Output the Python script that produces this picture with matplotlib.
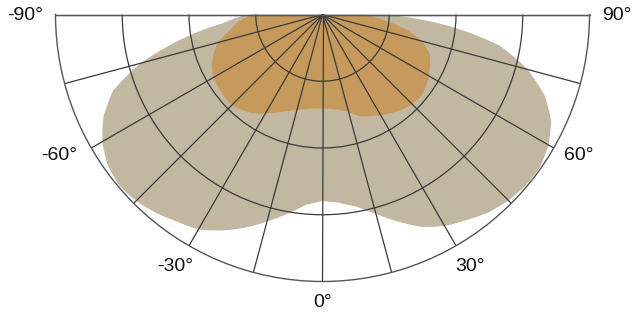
import numpy as np
import matplotlib
matplotlib.use("Agg")
import matplotlib.pyplot as plt

plt.rcParams['font.family'] = ['Liberation Sans', 'DejaVu Sans']

# angles (degrees, 0 = straight down, positive to the right)
angles = [-90, -85, -80, -75, -70, -65, -60, -55, -50, -45, -40, -35, -30, -25, -20, -15, -10, -5,
          0, 5, 10, 15, 20, 25, 30, 35, 40, 45, 50, 55, 60, 65, 70, 75, 80, 85, 90]

outer_curve = [112, 150, 215, 282, 334, 362, 381, 393, 398, 395, 388, 379, 372, 357, 340, 321, 303, 286,
               279, 283, 292, 309, 330, 351, 366, 376, 387, 394, 398, 398, 391, 378, 354, 318, 270, 187, 93]

inner_curve = [105, 127, 142, 162, 174, 183, 189, 190, 192, 192, 187, 181, 171, 162, 154, 148, 144, 141,
               141, 142, 145, 151, 162, 168, 174, 180, 186, 190, 192, 189, 184, 178, 171, 154, 127, 90, 63]

grid_angles = [-90, -75, -60, -45, -30, -15, 0, 15, 30, 45, 60, 75, 90]
ring_values = [100, 200, 300]
r_max = 400
label_angles = [-90, -60, -30, 0, 30, 60, 90]
label_texts = ['-90°', '-60°', '-30°', '0°', '30°', '60°', '90°']

fig = plt.figure(figsize=(6.42, 3.19), dpi=100)
cx, cy, R = 322.5, 14.5, 267.0
ax = fig.add_axes([(cx - R) / 642, (319 - (cy + R / 2 + R)) / 319, 2 * R / 642, 2 * R / 319],
                  projection='polar')
ax.set_theta_zero_location('S')
ax.set_theta_direction(1)
ax.set_thetamin(-90)
ax.set_thetamax(90)
ax.set_ylim(0, r_max)

th = np.deg2rad(angles)
p1 = ax.fill(th, outer_curve, color='#c2b7a0', lw=0, zorder=1)[0]
p2 = ax.fill(th, inner_curve, color='#c69a5c', lw=0, zorder=1.2)[0]
for p in (p1, p2):
    p.get_path()._interpolation_steps = 40

ax.set_thetagrids(grid_angles, labels=[''] * len(grid_angles))
ax.set_rgrids(ring_values, labels=[''] * len(ring_values))
ax.grid(True, color='#3a3a3a', lw=0.9, zorder=2)
ax.tick_params(length=0)
for sp in ax.spines.values():
    sp.set_color('#555555')
    sp.set_linewidth(1.0)

label_pos = {-90: (-89.8, 446), -60: (-61.8, 447), -30: (-30.3, 437), 0: (0, 432),
             30: (30.3, 437), 60: (61.1, 438), 90: (89.8, 441)}
for a, t in zip(label_angles, label_texts):
    ang, rr = label_pos[a]
    ax.text(np.deg2rad(ang), rr, t, ha='center', va='center',
            fontsize=14, color='#111111', clip_on=False)

fig.savefig('out.png', dpi=100)
